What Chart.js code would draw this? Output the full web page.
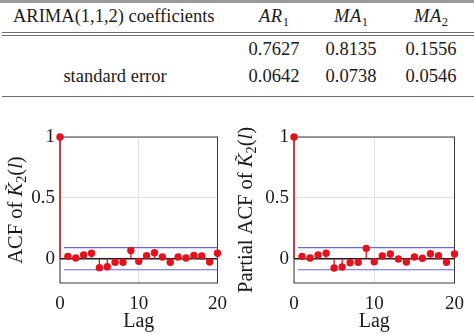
<!DOCTYPE html>
<html>
<head>
<meta charset="utf-8">
<script src="https://cdn.jsdelivr.net/npm/chart.js@4.4.1/dist/chart.umd.min.js"></script>
<style>
  html, body { margin: 0; padding: 0; background: #fff; }
  body { width: 474px; height: 335px; position: relative; overflow: hidden;
         font-family: "Liberation Serif", "Times New Roman", serif; color: #1a1a1a; }
  .rule { position: absolute; left: 2px; width: 472px; height: 1.4px; background: #6e6e6e; }
  .cell { position: absolute; font-size: 18.5px; line-height: 18.5px; white-space: nowrap; }
  .mid { transform: translateX(-50%); }
  .cell sub { font-size: 0.68em; line-height: 0; vertical-align: -0.28em; font-style: normal; }
  .cell i { letter-spacing: 0.5px; }
  canvas { position: absolute; }
</style>
</head>
<body>
<div class="rule" style="top:0;left:0;width:474px;height:2.6px;background:#9a9a9a"></div>
<div class="rule" style="top:31.8px"></div>
<div class="rule" style="top:35px"></div>
<div class="rule" style="top:96px"></div>
<div id="table"></div>
<canvas id="acf" width="237" height="217" style="left:0;top:118px"></canvas>
<canvas id="pacf" width="246" height="217" style="left:228px;top:118px"></canvas>
<script>
// ARIMA(1,1,2) fit summary
const coefNames = ['AR', 'MA', 'MA'];
const coefSubs = ['1', '1', '2'];
const estimates = ['0.7627', '0.8135', '0.1556'];
const stdErrors = ['0.0642', '0.0738', '0.0546'];

// residual correlation by lag
const lags = [0, 1, 2, 3, 4, 5, 6, 7, 8, 9, 10, 11, 12, 13, 14, 15, 16, 17, 18, 19, 20];
const acfValues = [1, 0.019, 0.005, 0.030, 0.044, -0.074, -0.066, -0.030, -0.030, 0.068, -0.022,
                   0.025, 0.049, 0.014, -0.030, 0.014, 0.005, 0.027, 0.022, -0.027, 0.044];
const pacfValues = [1, 0.019, 0.005, 0.030, 0.044, -0.077, -0.068, -0.033, -0.030, 0.085, -0.025,
                    0.022, 0.038, -0.003, -0.027, 0.014, 0.003, 0.041, 0.025, -0.030, 0.038];
const confBound = 0.091;
const boundFromLag = 0.5;
const xTickValues = [0, 10, 20];
const yTickValues = [0, 0.5, 1];

// ---- table ----
const table = document.getElementById('table');
function addCell(html, x, baseline, centered) {
  const d = document.createElement('div');
  d.className = 'cell' + (centered ? ' mid' : '');
  d.style.left = x + 'px';
  d.style.top = (baseline - 15.5) + 'px';
  d.innerHTML = html;
  table.appendChild(d);
}
const colX = [274, 351, 431];
addCell('ARIMA(1,1,2) coefficients', 13, 22, false);
coefNames.forEach((n, i) => addCell('<i>' + n + '</i><sub>' + coefSubs[i] + '</sub>', colX[i], 22, true));
estimates.forEach((v, i) => addCell(v, colX[i], 55, true));
addCell('standard error', 115, 82, true);
stdErrors.forEach((v, i) => addCell(v, colX[i], 82, true));

// ---- stem plots ----
const FONT = '"Liberation Serif", "Times New Roman", serif';
const RED = '#e6101c';
const BLUE = '#6767e0';

const framePlugin = {
  id: 'frame',
  beforeDatasetsDraw(chart) {
    const { ctx, chartArea: a } = chart;
    ctx.save();
    ctx.strokeStyle = '#3a3a3a';
    ctx.lineWidth = 1;
    ctx.strokeRect(a.left, a.top, a.right - a.left, a.bottom - a.top);
    ctx.restore();
  }
};

// rotated y-axis label with italic / subscript / tilde runs
const richTitlePlugin = {
  id: 'richTitle',
  afterDraw(chart, args, opts) {
    const { ctx, chartArea: a } = chart;
    const size = opts.size;
    const fontOf = (r) => (r.italic ? 'italic ' : '') + (r.sub ? size * 0.7 : size) + 'px ' + FONT;
    let total = 0;
    opts.runs.forEach(r => { ctx.font = fontOf(r); r.w = ctx.measureText(r.text).width; total += r.w; });
    ctx.save();
    ctx.translate(opts.x, (a.top + a.bottom) / 2);
    ctx.rotate(-Math.PI / 2);
    ctx.fillStyle = '#1a1a1a';
    let x = -total / 2;
    const base = size * 0.33;
    opts.runs.forEach(r => {
      ctx.font = fontOf(r);
      ctx.textBaseline = 'alphabetic';
      ctx.fillText(r.text, x, base + (r.sub ? size * 0.22 : 0));
      if (r.tilde) {
        ctx.font = (size * 0.9) + 'px ' + FONT;
        const tw = ctx.measureText('\u02DC').width;
        ctx.fillText('\u02DC', x + r.w / 2 - tw / 2 + 2, base - size * 0.2);
      }
      x += r.w;
    });
    ctx.restore();
  }
};

function stemChart(id, values, titleRuns, yAxisWidth, rightPad, titleX) {
  const points = lags.map((l, i) => ({ x: l, y: values[i] }));
  const stems = lags.flatMap((l, i) => [{ x: l, y: 0 }, { x: l, y: values[i] }, { x: l, y: null }]);
  const last = lags[lags.length - 1];
  return new Chart(document.getElementById(id), {
    type: 'scatter',
    data: {
      datasets: [
        { data: points, pointRadius: 3.7, pointBackgroundColor: RED, pointBorderWidth: 0,
          pointHoverRadius: 3.7, showLine: false, clip: false, order: 0 },
        { type: 'line', data: stems, borderColor: RED, borderWidth: 1.3, pointRadius: 0,
          spanGaps: false, clip: false, order: 1 },
        { type: 'line', data: [{ x: lags[0], y: 0 }, { x: last, y: 0 }], borderColor: '#1a1a1a',
          borderWidth: 1.5, pointRadius: 0, order: 2 },
        { type: 'line', data: [{ x: boundFromLag, y: confBound }, { x: last, y: confBound }],
          borderColor: BLUE, borderWidth: 1.2, pointRadius: 0, order: 3 },
        { type: 'line', data: [{ x: boundFromLag, y: -confBound }, { x: last, y: -confBound }],
          borderColor: BLUE, borderWidth: 1.2, pointRadius: 0, order: 4 }
      ]
    },
    options: {
      responsive: false,
      animation: false,
      events: [],
      layout: { padding: { top: 19, right: rightPad, left: 0, bottom: 0 } },
      plugins: {
        legend: { display: false },
        tooltip: { enabled: false },
        richTitle: { runs: titleRuns, size: 20.5, x: titleX }
      },
      scales: {
        x: {
          type: 'linear', min: 0, max: 20,
          afterBuildTicks: s => { s.ticks = xTickValues.map(v => ({ value: v })); },
          afterFit: s => { s.height = 52; },
          grid: { color: '#e2e2e2', drawTicks: false },
          border: { display: false },
          ticks: { font: { family: FONT, size: 19 }, color: '#1a1a1a', padding: 10, maxRotation: 0,
                   callback: v => String(v) },
          title: { display: true, text: 'Lag', font: { family: FONT, size: 20 }, color: '#1a1a1a',
                   padding: { top: 0, bottom: 1 } }
        },
        y: {
          min: -0.2, max: 1,
          afterBuildTicks: s => { s.ticks = yTickValues.map(v => ({ value: v })); },
          afterFit: s => { s.width = yAxisWidth; },
          grid: { color: '#e2e2e2', drawTicks: false },
          border: { display: false },
          ticks: { font: { family: FONT, size: 19 }, color: '#1a1a1a', padding: 5,
                   callback: v => String(v) }
        }
      }
    },
    plugins: [framePlugin, richTitlePlugin]
  });
}

const kRuns = [
  { text: 'K', italic: true, tilde: true },
  { text: '2', sub: true },
  { text: '(' },
  { text: 'l', italic: true },
  { text: ')' }
];
stemChart('acf', acfValues, [{ text: 'ACF of ' }].concat(kRuns.map(r => ({ ...r }))), 60, 10, 15);
stemChart('pacf', pacfValues, [{ text: 'Partial ACF of ' }].concat(kRuns.map(r => ({ ...r }))), 66, 12, 17);
</script>
</body>
</html>
